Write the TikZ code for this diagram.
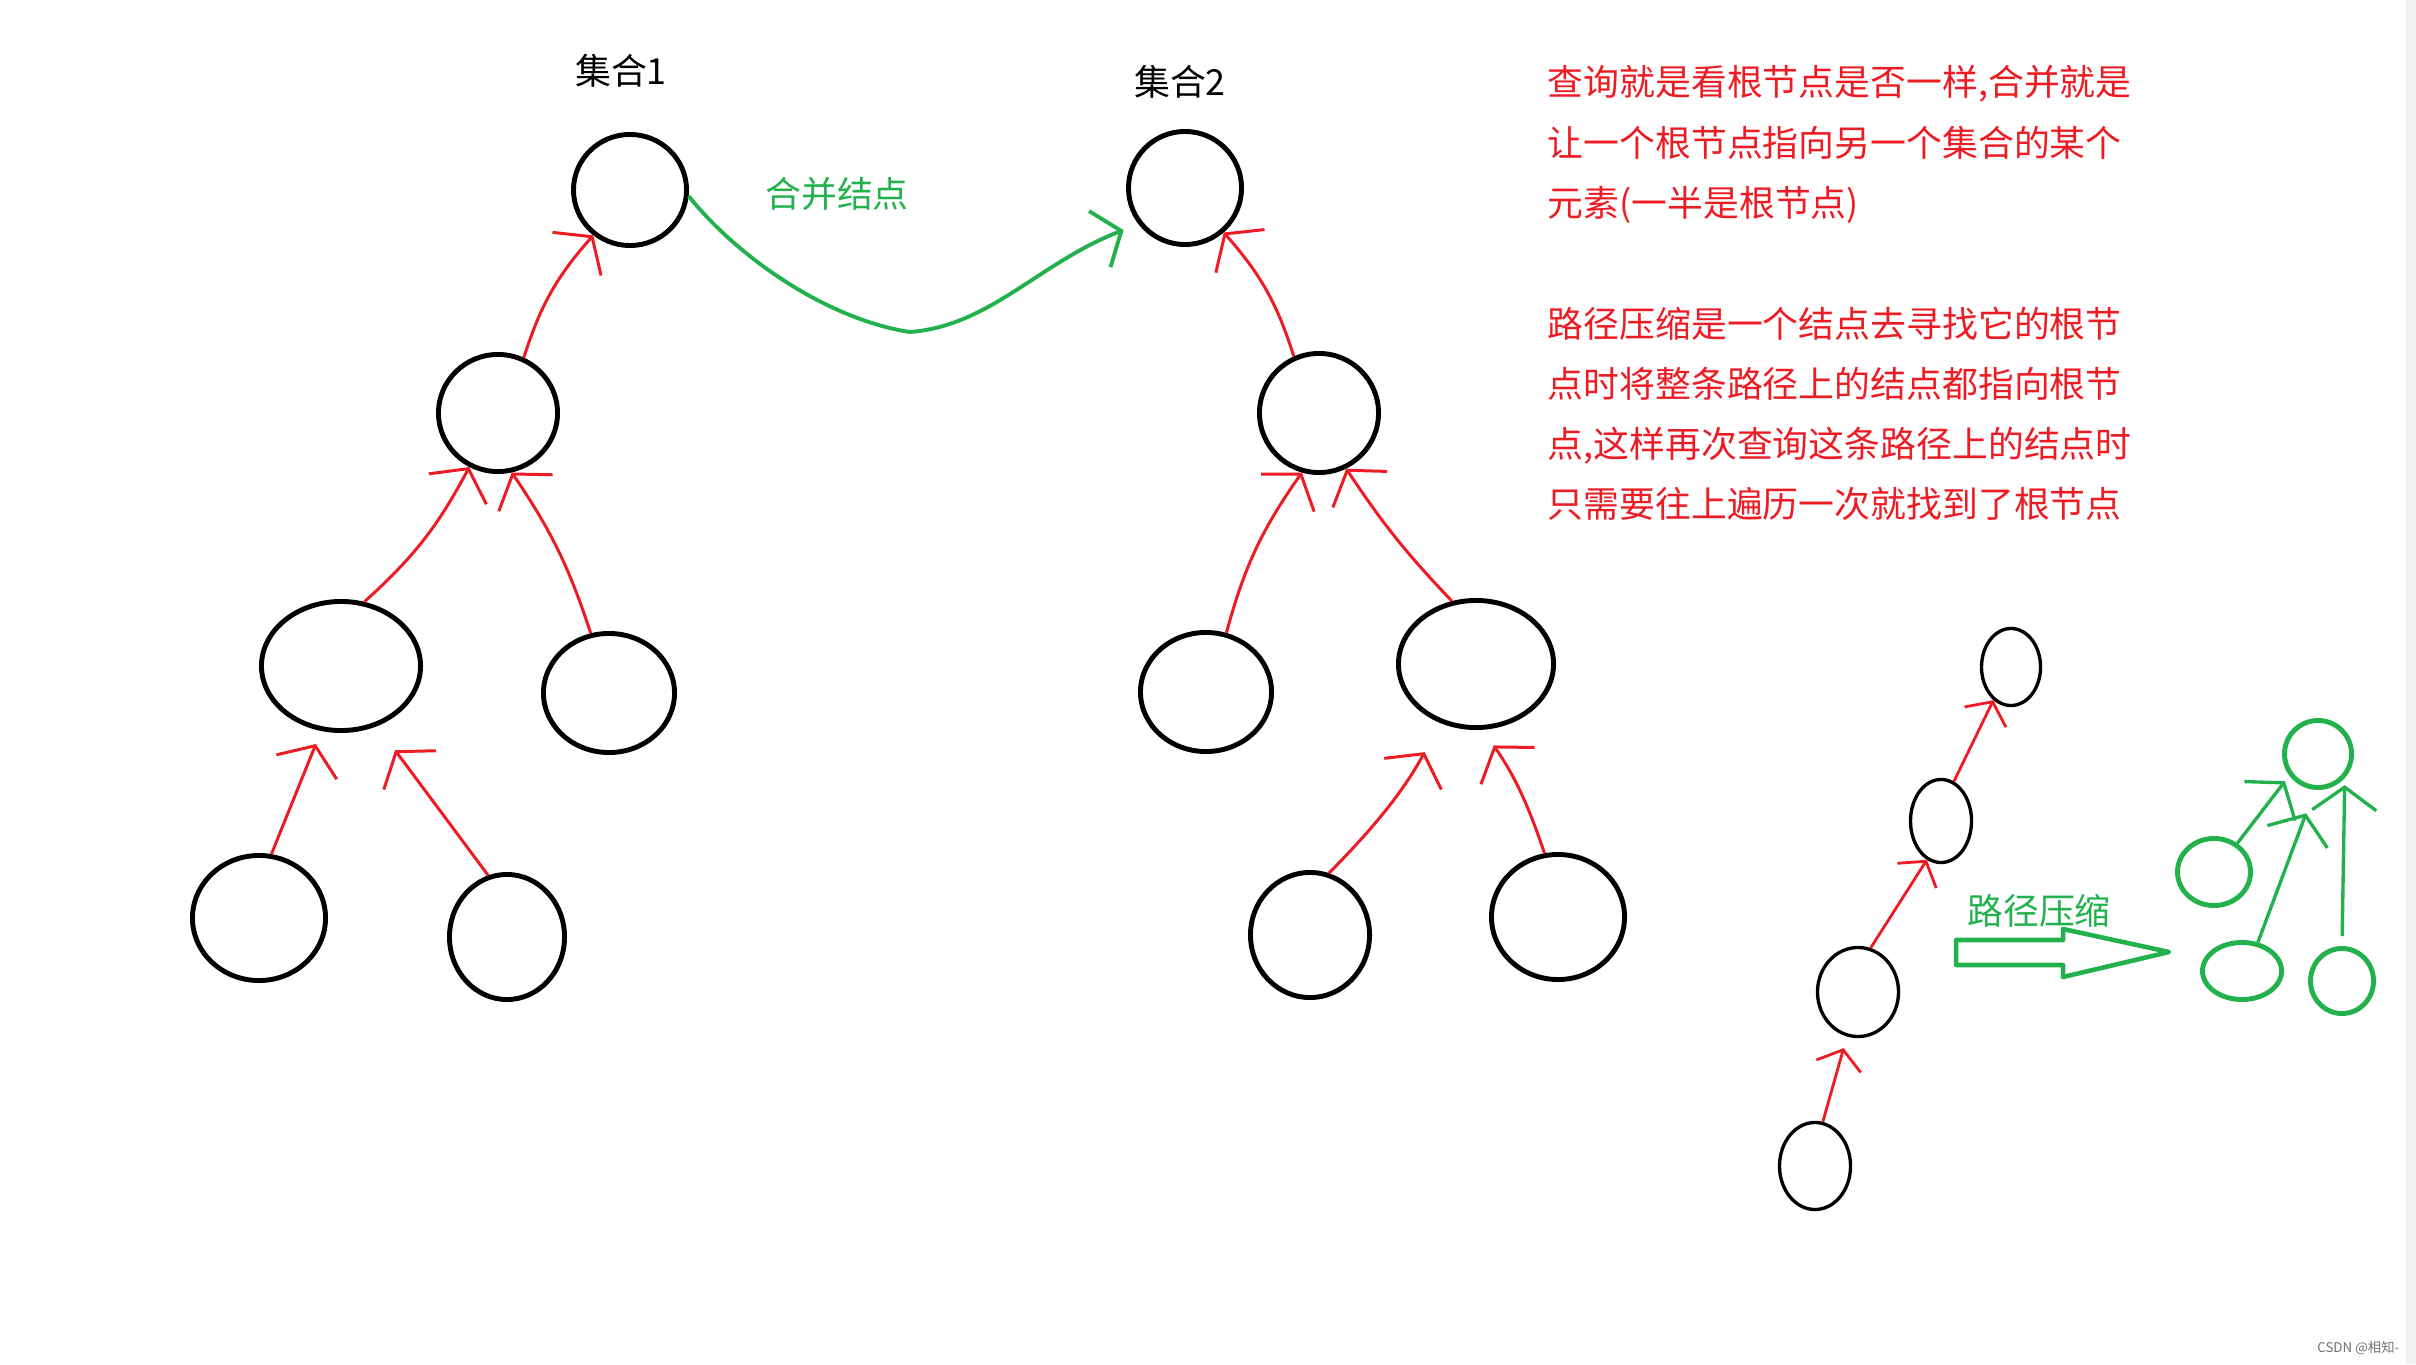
\documentclass[tikz,border=0pt]{standalone}
\usepackage{fontspec}
\setmainfont{Noto Sans CJK SC}
\usetikzlibrary{arrows.meta,shapes.geometric}
\definecolor{pred}{RGB}{237,28,36}
\definecolor{pgreen}{RGB}{34,177,76}

\begin{document}
\begin{tikzpicture}[x=0.01cm,y=-0.01cm,
  ring/.style={ellipse,draw,line width=1.4pt,inner sep=0pt},
  sring/.style={ellipse,draw,line width=0.95pt,inner sep=0pt},
  gring/.style={ellipse,draw=pgreen,line width=1.4pt,inner sep=0pt},
  sz/.style 2 args={minimum width=#1cm,minimum height=#2cm},
  link/.style={pred,line width=0.85pt,-{Straight Barb[length=2.3mm,width=6.5mm]}},
  slink/.style={pred,line width=0.8pt,-{Straight Barb[length=1.7mm,width=4.6mm]}},
  glink/.style={pgreen,line width=0.95pt,-{Straight Barb[length=2.3mm,width=6.4mm]}},
  lbl/.style={font=\fontsize{10.2pt}{17.1pt}\selectfont,inner sep=0pt}]
  \useasboundingbox (0,0) rectangle (2416,1364);
  \fill[black!6] (2406,0) rectangle (2416,1364); % window edge

  % set 1
  \node[lbl] (s1) at (621,71) {集合1};
  \node[ring,sz={1.13}{1.11}] (A) at (630,190) {};
  \node[ring,sz={1.19}{1.17}] (B) at (498,413) {};
  \node[ring,sz={1.59}{1.29}] (C) at (341,666) {};
  \node[ring,sz={1.31}{1.19}] (D) at (609,693) {};
  \node[ring,sz={1.33}{1.25}] (E) at (259,918) {};
  \node[ring,sz={1.15}{1.25}] (F) at (507,937) {};

  \draw[link] (B.65) to[bend left=12] (A.231);
  \draw[link] (C.70) to[bend right=10] (B.242);
  \draw[link] (D.107) to[bend right=8] (B.283);
  \draw[link,shorten >=0.14cm] (E.79) -- (C.253);
  \draw[link,shorten >=0.3cm] (F.107) -- (C.301);

  % set 2
  \node[lbl] (s2) at (1180,82) {集合2};
  \node[ring,sz={1.13}{1.13}] (G) at (1185,188) {};
  \node[ring,sz={1.19}{1.19}] (H) at (1319,413) {};
  \node[ring,sz={1.31}{1.19}] (I) at (1206,692) {};
  \node[ring,sz={1.55}{1.27}] (J) at (1476,664) {};
  \node[ring,sz={1.19}{1.25}] (K) at (1310,935) {};
  \node[ring,sz={1.33}{1.25}] (L) at (1558,917) {};

  \draw[link] (H.114) to[bend right=12] (G.311);
  \draw[link] (I.71) to[bend left=10] (H.254);
  \draw[link] (J.111) to[bend left=5] (H.296);
  \draw[link,shorten >=0.33cm] (K.73) to[bend right=8] (J.239);
  \draw[link,shorten >=0.19cm] (L.102) to[bend right=8] (J.276);

  % merge root of set 1 into set 2
  \node[lbl,pgreen] (merge) at (837,194) {合并结点};
  \draw[pgreen,line width=1.1pt,shorten >=0.16cm,-{Straight Barb[length=2.3mm,width=6mm]}]
    (A.-6) .. controls (740,260) and (830,320) .. (910,332)
    .. controls (990,326) and (1040,262) .. (G.218);

  % notes
  \node[lbl,pred,align=left,anchor=north west] (n1) at (1547,65)
    {查询就是看根节点是否一样,合并就是\\让一个根节点指向另一个集合的某个\\元素(一半是根节点)};
  \node[lbl,pred,align=left,anchor=north west] (n2) at (1547,306)
    {路径压缩是一个结点去寻找它的根节\\点时将整条路径上的结点都指向根节\\点,这样再次查询这条路径上的结点时\\只需要往上遍历一次就找到了根节点};

  % path before compression
  \node[sring,sz={0.59}{0.77}] (P1) at (2011,667) {};
  \node[sring,sz={0.61}{0.83}] (P2) at (1941,821) {};
  \node[sring,sz={0.81}{0.89}] (P3) at (1858,992) {};
  \node[sring,sz={0.71}{0.87}] (P4) at (1815,1166) {};
  \draw[slink] (P2.72) -- (P1.242);
  \draw[slink] (P3.74) -- (P2.250);
  \draw[slink,shorten >=0.12cm] (P4.80) -- (P3.256);

  % hollow arrow
  \node[lbl,pgreen] (pc) at (2039,911) {路径压缩};
  \draw[pgreen,line width=1.3pt,line join=round]
    (1956,940) -- (2063,940) -- (2063,929) -- (2169,952) -- (2063,977)
    -- (2063,965) -- (1956,965) -- cycle;

  % path after compression
  \node[gring,sz={0.67}{0.67}] (Q0) at (2318,754) {};
  \node[gring,sz={0.73}{0.67}] (Q1) at (2214,872) {};
  \node[gring,sz={0.79}{0.57}] (Q2) at (2242,971) {};
  \node[gring,sz={0.63}{0.65}] (Q3) at (2342,981) {};
  \draw[glink,shorten >=0.07cm] (Q1.51) -- (Q0.217);
  \draw[glink,shorten >=0.25cm] (Q2.61) -- (Q0.265);
  \draw[glink,shorten <=0.1cm,shorten >=0.07cm] (Q3.90) -- (Q0.318);

  \node[font=\fontsize{3.8pt}{4pt}\selectfont,text=black!55,anchor=east,inner sep=0pt] (wm) at (2400,1348) {CSDN @相知-};
\end{tikzpicture}
\end{document}
